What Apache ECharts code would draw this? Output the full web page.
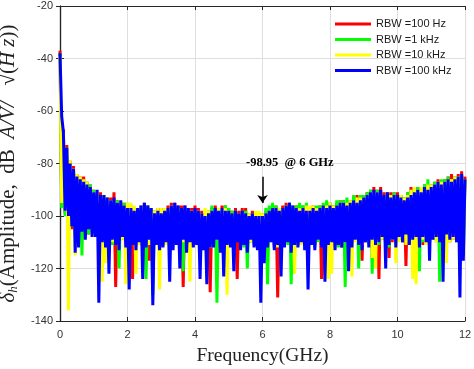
<!DOCTYPE html>
<html><head><meta charset="utf-8">
<script src="https://cdn.jsdelivr.net/npm/echarts@6/dist/echarts.min.js"></script>
<style>html,body{margin:0;padding:0;background:#fff}#c{width:474px;height:369px}</style>
</head><body><div id="c"></div>
<script>
// Sampling step of the spectra (GHz)
const FREQ_STEP = 0.05;
const seriesNames = ['RBW =100 Hz', 'RBW =1 kHz', 'RBW =10 kHz', 'RBW =100 kHz'];
const seriesColors = ['#ff0000', '#00ff00', '#ffff00', '#0000ff'];

// RBW = 100 Hz (red)
const red = [
-37,-96,-67,-99,-73,-102,-79,-105,-81,-108,-84,-104,-85,-106,-85,-103,-87,-107,-88,-106,
-90,-107,-91,-110,-91,-108,-92,-109,-93,-111,-93,-108,-91,-127,-94,-110,-95,-109,-95,-111,
-96,-110,-96,-124,-97,-109,-97,-111,-96,-110,-95,-112,-96,-117,-97,-110,-98,-111,-97,-109,
-97,-111,-97,-109,-96,-112,-95,-110,-95,-111,-96,-113,-96,-127,-96,-110,-97,-111,-97,-109,
-96,-111,-97,-110,-98,-109,-99,-112,-98,-129,-97,-110,-96,-111,-97,-109,-96,-112,-96,-110,
-97,-111,-98,-109,-97,-124,-98,-110,-97,-111,-97,-112,-99,-110,-98,-109,-99,-111,-99,-110,
-99,-111,-98,-110,-97,-109,-96,-112,-96,-131,-97,-110,-96,-111,-95,-109,-95,-112,-96,-110,
-96,-111,-97,-110,-96,-109,-97,-112,-97,-110,-96,-111,-97,-109,-96,-124,-96,-110,-96,-112,
-95,-110,-96,-111,-95,-109,-94,-112,-94,-110,-95,-111,-94,-110,-93,-109,-92,-111,-93,-117,
-92,-110,-91,-109,-90,-111,-89,-110,-90,-124,-89,-109,-91,-111,-91,-116,-91,-110,-91,-109,
-91,-109,-92,-110,-93,-119,-91,-108,-89,-110,-90,-109,-89,-108,-90,-111,-88,-109,-89,-110,
-88,-109,-87,-108,-86,-110,-87,-109,-86,-108,-85,-110,-84,-109,-85,-107,-84,-108,-83,-109,
-85];

// RBW = 1 kHz (green)
const green = [
-38,-97,-68,-100,-74,-101,-80,-104,-82,-106,-85,-103,-86,-115,-87,-105,-87,-107,-88,-104,
-90,-108,-91,-109,-92,-110,-92,-107,-93,-109,-94,-111,-94,-108,-94,-120,-95,-109,-95,-110,
-95,-110,-96,-109,-97,-111,-97,-110,-96,-112,-96,-124,-96,-110,-97,-130,-98,-111,-98,-110,
-98,-111,-97,-110,-97,-109,-96,-111,-96,-110,-97,-112,-97,-121,-97,-110,-98,-111,-98,-109,
-98,-110,-98,-111,-99,-109,-99,-112,-98,-110,-96,-111,-97,-133,-97,-110,-97,-109,-96,-111,
-97,-110,-98,-111,-98,-109,-99,-110,-98,-112,-98,-120,-99,-110,-99,-111,-99,-109,-100,-110,
-99,-111,-97,-126,-96,-110,-95,-111,-96,-109,-97,-112,-97,-110,-96,-111,-95,-126,-96,-110,
-96,-111,-95,-110,-96,-109,-95,-111,-97,-110,-97,-112,-96,-110,-96,-109,-95,-111,-94,-110,
-95,-111,-96,-110,-94,-112,-94,-109,-94,-127,-93,-111,-94,-110,-92,-109,-93,-120,-92,-111,
-92,-110,-91,-109,-90,-122,-91,-110,-90,-111,-91,-109,-92,-110,-91,-112,-92,-109,-91,-110,
-92,-109,-92,-110,-93,-108,-91,-111,-90,-109,-90,-110,-89,-121,-89,-110,-88,-109,-86,-110,
-88,-109,-87,-110,-87,-125,-86,-108,-86,-110,-85,-109,-86,-108,-85,-110,-85,-109,-84,-115,
-86];

// RBW = 10 kHz (yellow)
const yellow = [
-39,-95,-69,-98,-75,-136,-79,-103,-82,-115,-84,-105,-85,-102,-86,-106,-87,-104,-89,-107,
-91,-108,-91,-110,-92,-125,-92,-118,-93,-109,-94,-110,-94,-108,-95,-111,-95,-109,-96,-126,
-95,-110,-95,-109,-96,-122,-97,-111,-96,-110,-96,-109,-97,-111,-98,-110,-98,-109,-97,-128,
-97,-110,-97,-111,-97,-109,-96,-110,-96,-111,-97,-109,-98,-110,-97,-112,-98,-125,-98,-110,
-98,-110,-98,-111,-99,-109,-97,-110,-98,-112,-98,-110,-98,-109,-97,-111,-97,-110,-97,-130,
-98,-111,-99,-110,-99,-109,-99,-111,-99,-110,-99,-112,-99,-110,-99,-111,-98,-109,-98,-110,
-99,-110,-99,-111,-98,-109,-97,-110,-97,-112,-97,-110,-97,-111,-96,-109,-96,-110,-96,-122,
-97,-110,-97,-111,-97,-109,-96,-110,-96,-111,-96,-110,-97,-109,-97,-111,-96,-110,-96,-124,
-95,-122,-96,-110,-96,-111,-95,-109,-95,-110,-95,-111,-94,-123,-94,-110,-93,-109,-93,-111,
-93,-110,-92,-111,-91,-116,-91,-120,-91,-110,-91,-109,-92,-111,-92,-110,-92,-109,-92,-118,
-92,-110,-92,-109,-93,-111,-92,-110,-90,-124,-89,-126,-90,-110,-89,-109,-89,-111,-88,-110,
-88,-109,-88,-110,-87,-108,-87,-109,-87,-118,-86,-110,-86,-109,-85,-110,-85,-108,-85,-110,
-86];

// RBW = 100 kHz (blue)
const blue = [
-38,-62,-68,-98,-74,-100,-80,-104,-82,-114,-85,-112,-86,-106,-87,-109,-88,-105,-89,-108,
-91,-108,-90,-133,-92,-110,-92,-112,-93,-122,-94,-109,-93,-111,-95,-113,-94,-108,-96,-112,
-97,-128,-97,-111,-98,-113,-97,-110,-96,-124,-95,-112,-96,-109,-97,-134,-99,-111,-98,-113,
-99,-112,-98,-110,-97,-125,-96,-113,-95,-111,-96,-120,-97,-109,-96,-114,-97,-110,-98,-112,
-97,-111,-98,-124,-99,-113,-100,-126,-99,-112,-98,-112,-97,-109,-98,-114,-97,-123,-98,-111,
-98,-112,-99,-121,-98,-110,-99,-113,-98,-111,-99,-114,-100,-109,-99,-112,-100,-113,-100,-133,
-100,-118,-99,-112,-98,-110,-97,-113,-97,-111,-98,-123,-97,-112,-96,-110,-95,-114,-96,-111,
-97,-112,-98,-110,-97,-113,-98,-128,-98,-111,-97,-113,-98,-109,-97,-112,-96,-125,-97,-111,
-96,-110,-97,-113,-96,-111,-95,-112,-95,-110,-96,-121,-95,-112,-94,-109,-95,-111,-94,-113,
-93,-110,-92,-112,-91,-109,-90,-111,-91,-110,-90,-108,-92,-120,-91,-111,-93,-109,-92,-112,
-92,-108,-93,-110,-94,-107,-93,-111,-92,-109,-91,-108,-90,-112,-91,-108,-89,-110,-90,-117,
-89,-109,-88,-108,-87,-110,-88,-125,-87,-107,-86,-109,-87,-108,-86,-110,-85,-131,-84,-117,
-86];

// Axes
const X_MIN = 0, X_MAX = 12, X_INTERVAL = 2;
const Y_MIN = -140, Y_MAX = -20, Y_INTERVAL = 20;

// Annotation
const ANNOT_TEXT = '-98.95  @ 6 GHz';
const ANNOT_FREQ = 6;
const ARROW_FROM = -85;
const ARROW_TO = -95;
const ANNOT_TEXT_AT = [5.51, -79.8];

const allData = [red, green, yellow, blue];
const toPoints = arr => arr.map((v, i) => [+(i * FREQ_STEP).toFixed(2), v]);

const AX = '#262626';
const chart = echarts.init(document.getElementById('c'), null, {renderer: 'canvas'});

const series = allData.map((arr, k) => {
  const s = {
    name: seriesNames[k],
    type: 'line',
    data: toPoints(arr),
    showSymbol: false,
    symbol: 'none',
    sampling: null,
    animation: false,
    color: seriesColors[k],
    lineStyle: {width: 3, color: seriesColors[k], join: 'bevel'},
    z: 2 + k
  };
  if (k === 3) {
    s.markLine = {
      silent: true, animation: false,
      symbol: ['none', 'arrow'], symbolSize: 8,
      lineStyle: {color: '#000', width: 1.5, type: 'solid'},
      label: {show: false},
      data: [[{coord: [ANNOT_FREQ, ARROW_FROM]}, {coord: [ANNOT_FREQ, ARROW_TO]}]]
    };
    s.markPoint = {
      silent: true, animation: false,
      data: [{coord: ANNOT_TEXT_AT, symbol: 'circle', symbolSize: 0,
        label: {show: true, position: 'right', distance: 0, formatter: ANNOT_TEXT,
          fontFamily: 'Liberation Serif', fontWeight: 'bold', fontSize: 12.5, color: '#000'}}]
    };
  }
  return s;
});

const tickStyle = {inside: true, length: 4, lineStyle: {color: AX, width: 1}};
const lineStyleAx = {show: true, lineStyle: {color: AX, width: 1.2}};

chart.setOption({
  animation: false,
  backgroundColor: '#fff',
  grid: {left: 60, right: 9, top: 6, bottom: 48, containLabel: false, outerBoundsMode: 'none'},
  legend: {
    data: seriesNames,
    orient: 'vertical',
    left: 335, top: 17,
    padding: 0,
    icon: 'rect',
    itemWidth: 36, itemHeight: 3,
    itemGap: 1.5, itemTextGap: 3,
    textStyle: {fontFamily: 'Liberation Sans', fontSize: 11, color: '#1a1a1a', lineHeight: 14}
  },
  xAxis: [{
    type: 'value', min: X_MIN, max: X_MAX, interval: X_INTERVAL,
    name: 'Frequency(GHz)', nameLocation: 'middle', nameGap: 25,
    nameTextStyle: {fontFamily: 'Liberation Serif', fontSize: 19.5, color: '#222'},
    axisLine: lineStyleAx, axisTick: tickStyle,
    axisLabel: {fontFamily: 'Liberation Sans', fontSize: 11, color: '#333', margin: 8},
    splitLine: {show: true, lineStyle: {color: '#dedede', width: 1}}
  }, {
    type: 'value', position: 'top', min: X_MIN, max: X_MAX, interval: X_INTERVAL,
    axisLine: lineStyleAx, axisTick: tickStyle, axisLabel: {show: false}, splitLine: {show: false}
  }],
  yAxis: [{
    type: 'value', min: Y_MIN, max: Y_MAX, interval: Y_INTERVAL,
    name: '{i|δ}{s|h}{n|(Amplitude,  dB  }{i|A/V/}{n|   √(}{i|H z}{n|))}',
    nameLocation: 'middle', nameRotate: 90, nameGap: 28,
    nameTextStyle: {
      fontFamily: 'Liberation Serif', fontSize: 21, color: '#222',
      rich: {
        n: {fontFamily: 'Liberation Serif', fontSize: 21, color: '#222'},
        i: {fontFamily: 'Liberation Serif', fontStyle: 'italic', fontSize: 21, color: '#222'},
        s: {fontFamily: 'Liberation Serif', fontStyle: 'italic', fontSize: 13, color: '#222', padding: [10, 0, 0, 0]}
      }
    },
    axisLine: lineStyleAx, axisTick: tickStyle,
    axisLabel: {fontFamily: 'Liberation Sans', fontSize: 11, color: '#333', margin: 7},
    splitLine: {show: true, lineStyle: {color: '#dedede', width: 1}}
  }, {
    type: 'value', position: 'right', min: Y_MIN, max: Y_MAX, interval: Y_INTERVAL,
    axisLine: lineStyleAx, axisTick: tickStyle, axisLabel: {show: false}, splitLine: {show: false}
  }],
  series: series
});
</script>
</body></html>
